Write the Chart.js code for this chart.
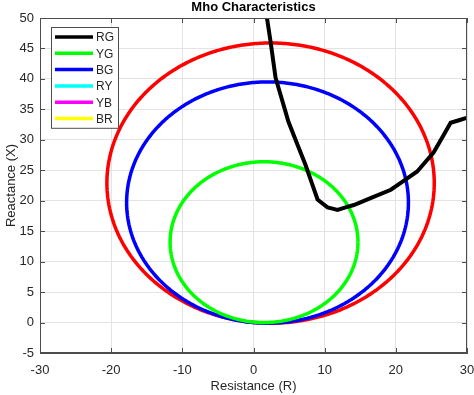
<!DOCTYPE html>
<html>
<head>
<meta charset="utf-8">
<script src="https://cdn.jsdelivr.net/npm/chart.js@4"></script>
<style>
  html, body { margin: 0; padding: 0; background: #fff; }
  #wrap { width: 474px; height: 395px; }
</style>
</head>
<body>
<div id="wrap"><canvas id="mhoChart" width="474" height="395"></canvas></div>
<script>
// Axis ticks
const xTicks = [-30, -20, -10, 0, 10, 20, 30];
const yTicks = [-5, 0, 5, 10, 15, 20, 25, 30, 35, 40, 45, 50];

// RG impedance trajectory
const rgX = [1.5, 2.4, 3.1, 3.8, 4.9, 7.3, 9.0, 10.4, 11.8, 14.1, 19.3, 23.0, 25.3, 27.7, 30.5];
const rgY = [53, 46.1, 40.2, 37.4, 33.0, 25.9, 20.2, 18.9, 18.5, 19.3, 21.8, 24.8, 27.9, 32.8, 33.8];

// Mho circles: YG, BG and the outer (red) zone
const circleNames = ['YG', 'BG', 'Zone'];
const circleCenterX = [1.48, 1.97, 2.4];
const circleCenterY = [13.2, 19.7, 22.9];
const circleRadius = [13.2, 19.8, 23.0];

// legend-only phases (nothing visible on the plot)
const emptyNames = ['RY', 'YB', 'BR'];

const colors = {
    RG: '#000000', YG: '#00ff00', BG: '#0000ff',
    RY: '#00ffff', YB: '#ff00ff', BR: '#ffff00', Zone: '#ff0000'
};

function circlePoints(i) {
    const pts = [];
    for (let k = 0; k <= 240; k++) {
        const t = (k / 240) * 2 * Math.PI;
        pts.push({ x: circleCenterX[i] + circleRadius[i] * Math.cos(t),
                   y: circleCenterY[i] + circleRadius[i] * Math.sin(t) });
    }
    return pts;
}

const datasets = [];
datasets.push({
    label: 'RG',
    data: rgX.map((x, i) => ({ x: x, y: rgY[i] })),
    borderColor: colors.RG, borderWidth: 4, legend: true
});
circleNames.slice(0, 2).forEach((name, i) => {
    datasets.push({ label: name, data: circlePoints(i), borderColor: colors[name], borderWidth: 3.5, legend: true });
});
emptyNames.forEach(name => {
    datasets.push({ label: name, data: [], borderColor: colors[name], borderWidth: 3.5, legend: true });
});
datasets.push({ label: 'Zone', data: circlePoints(2), borderColor: colors.Zone, borderWidth: 3.5, legend: false });
datasets.forEach(d => {
    d.showLine = true;
    d.pointRadius = 0;
    d.fill = false;
    d.tension = 0.001; // keeps chart.js off the fast path so circles stay round
});

const boxPlugin = {
    id: 'boxPlugin',
    afterDraw(chart) {
        const ctx = chart.ctx;
        const a = chart.chartArea;
        const xs = chart.scales.x;
        const ys = chart.scales.y;
        ctx.save();

        // box + inward ticks
        ctx.strokeStyle = '#4d4d4d';
        ctx.lineWidth = 1;
        ctx.strokeRect(a.left + 0.5, a.top + 0.5, a.right - a.left - 1, a.bottom - a.top - 1);
        ctx.beginPath();
        xTicks.forEach(v => {
            const px = Math.round(xs.getPixelForValue(v)) + 0.5;
            ctx.moveTo(px, a.bottom); ctx.lineTo(px, a.bottom - 5);
            ctx.moveTo(px, a.top); ctx.lineTo(px, a.top + 5);
        });
        yTicks.forEach(v => {
            const py = Math.round(ys.getPixelForValue(v)) + 0.5;
            ctx.moveTo(a.left, py); ctx.lineTo(a.left + 5, py);
            ctx.moveTo(a.right, py); ctx.lineTo(a.right - 5, py);
        });
        ctx.stroke();

        // title
        ctx.fillStyle = '#000';
        ctx.font = 'bold 13px "Liberation Sans", Arial, sans-serif';
        ctx.textAlign = 'center';
        ctx.textBaseline = 'alphabetic';
        ctx.fillText('Mho Characteristics', (a.left + a.right) / 2, 11);

        // legend box inside the axes
        const items = chart.data.datasets.filter(d => d.legend);
        const bx = 51, by = 27, bw = 67, rowH = 16.3;
        const bh = items.length * rowH + 3;
        ctx.fillStyle = '#fff';
        ctx.fillRect(bx, by, bw, bh);
        ctx.strokeStyle = '#4d4d4d';
        ctx.strokeRect(bx + 0.5, by + 0.5, bw, bh);
        ctx.font = '12px "Liberation Sans", Arial, sans-serif';
        ctx.textAlign = 'left';
        ctx.textBaseline = 'middle';
        items.forEach((d, i) => {
            const cy = by + 10 + i * rowH;
            ctx.strokeStyle = d.borderColor;
            ctx.lineWidth = 3.5;
            ctx.beginPath();
            ctx.moveTo(55, cy); ctx.lineTo(93, cy);
            ctx.stroke();
            ctx.fillStyle = '#262626';
            ctx.fillText(d.label, 96, cy + 1);
        });
        ctx.restore();
    }
};

new Chart(document.getElementById('mhoChart'), {
    type: 'scatter',
    data: { datasets: datasets },
    options: {
        responsive: false,
        animation: false,
        layout: { padding: { top: 18, right: 7, left: 0, bottom: 0 } },
        plugins: { legend: { display: false }, tooltip: { enabled: false }, title: { display: false } },
        scales: {
            x: {
                type: 'linear', min: -30, max: 30,
                afterBuildTicks: s => { s.ticks = xTicks.map(v => ({ value: v })); },
                afterFit: s => { s.height = 42; s.paddingLeft = 0; s.paddingRight = 0; },
                grid: { color: '#e3e3e3', drawTicks: false },
                border: { color: '#4d4d4d' },
                ticks: { color: '#262626', padding: 10, maxRotation: 0, font: { size: 13, family: '"Liberation Sans", Arial' } },
                title: { display: true, text: 'Resistance (R)', color: '#262626', padding: { top: 0, bottom: 1 }, font: { size: 13, family: '"Liberation Sans", Arial' } }
            },
            y: {
                type: 'linear', min: -5, max: 50,
                afterBuildTicks: s => { s.ticks = yTicks.map(v => ({ value: v })); },
                afterFit: s => { s.width = 40; s.paddingTop = 0; s.paddingBottom = 0; },
                grid: { color: '#e3e3e3', drawTicks: false },
                border: { color: '#4d4d4d' },
                ticks: { color: '#262626', padding: 6, font: { size: 13, family: '"Liberation Sans", Arial' } },
                title: { display: true, text: 'Reactance (X)', color: '#262626', padding: { top: 4, bottom: 0 }, font: { size: 13, family: '"Liberation Sans", Arial' } }
            }
        }
    },
    plugins: [boxPlugin]
});
</script>
</body>
</html>
